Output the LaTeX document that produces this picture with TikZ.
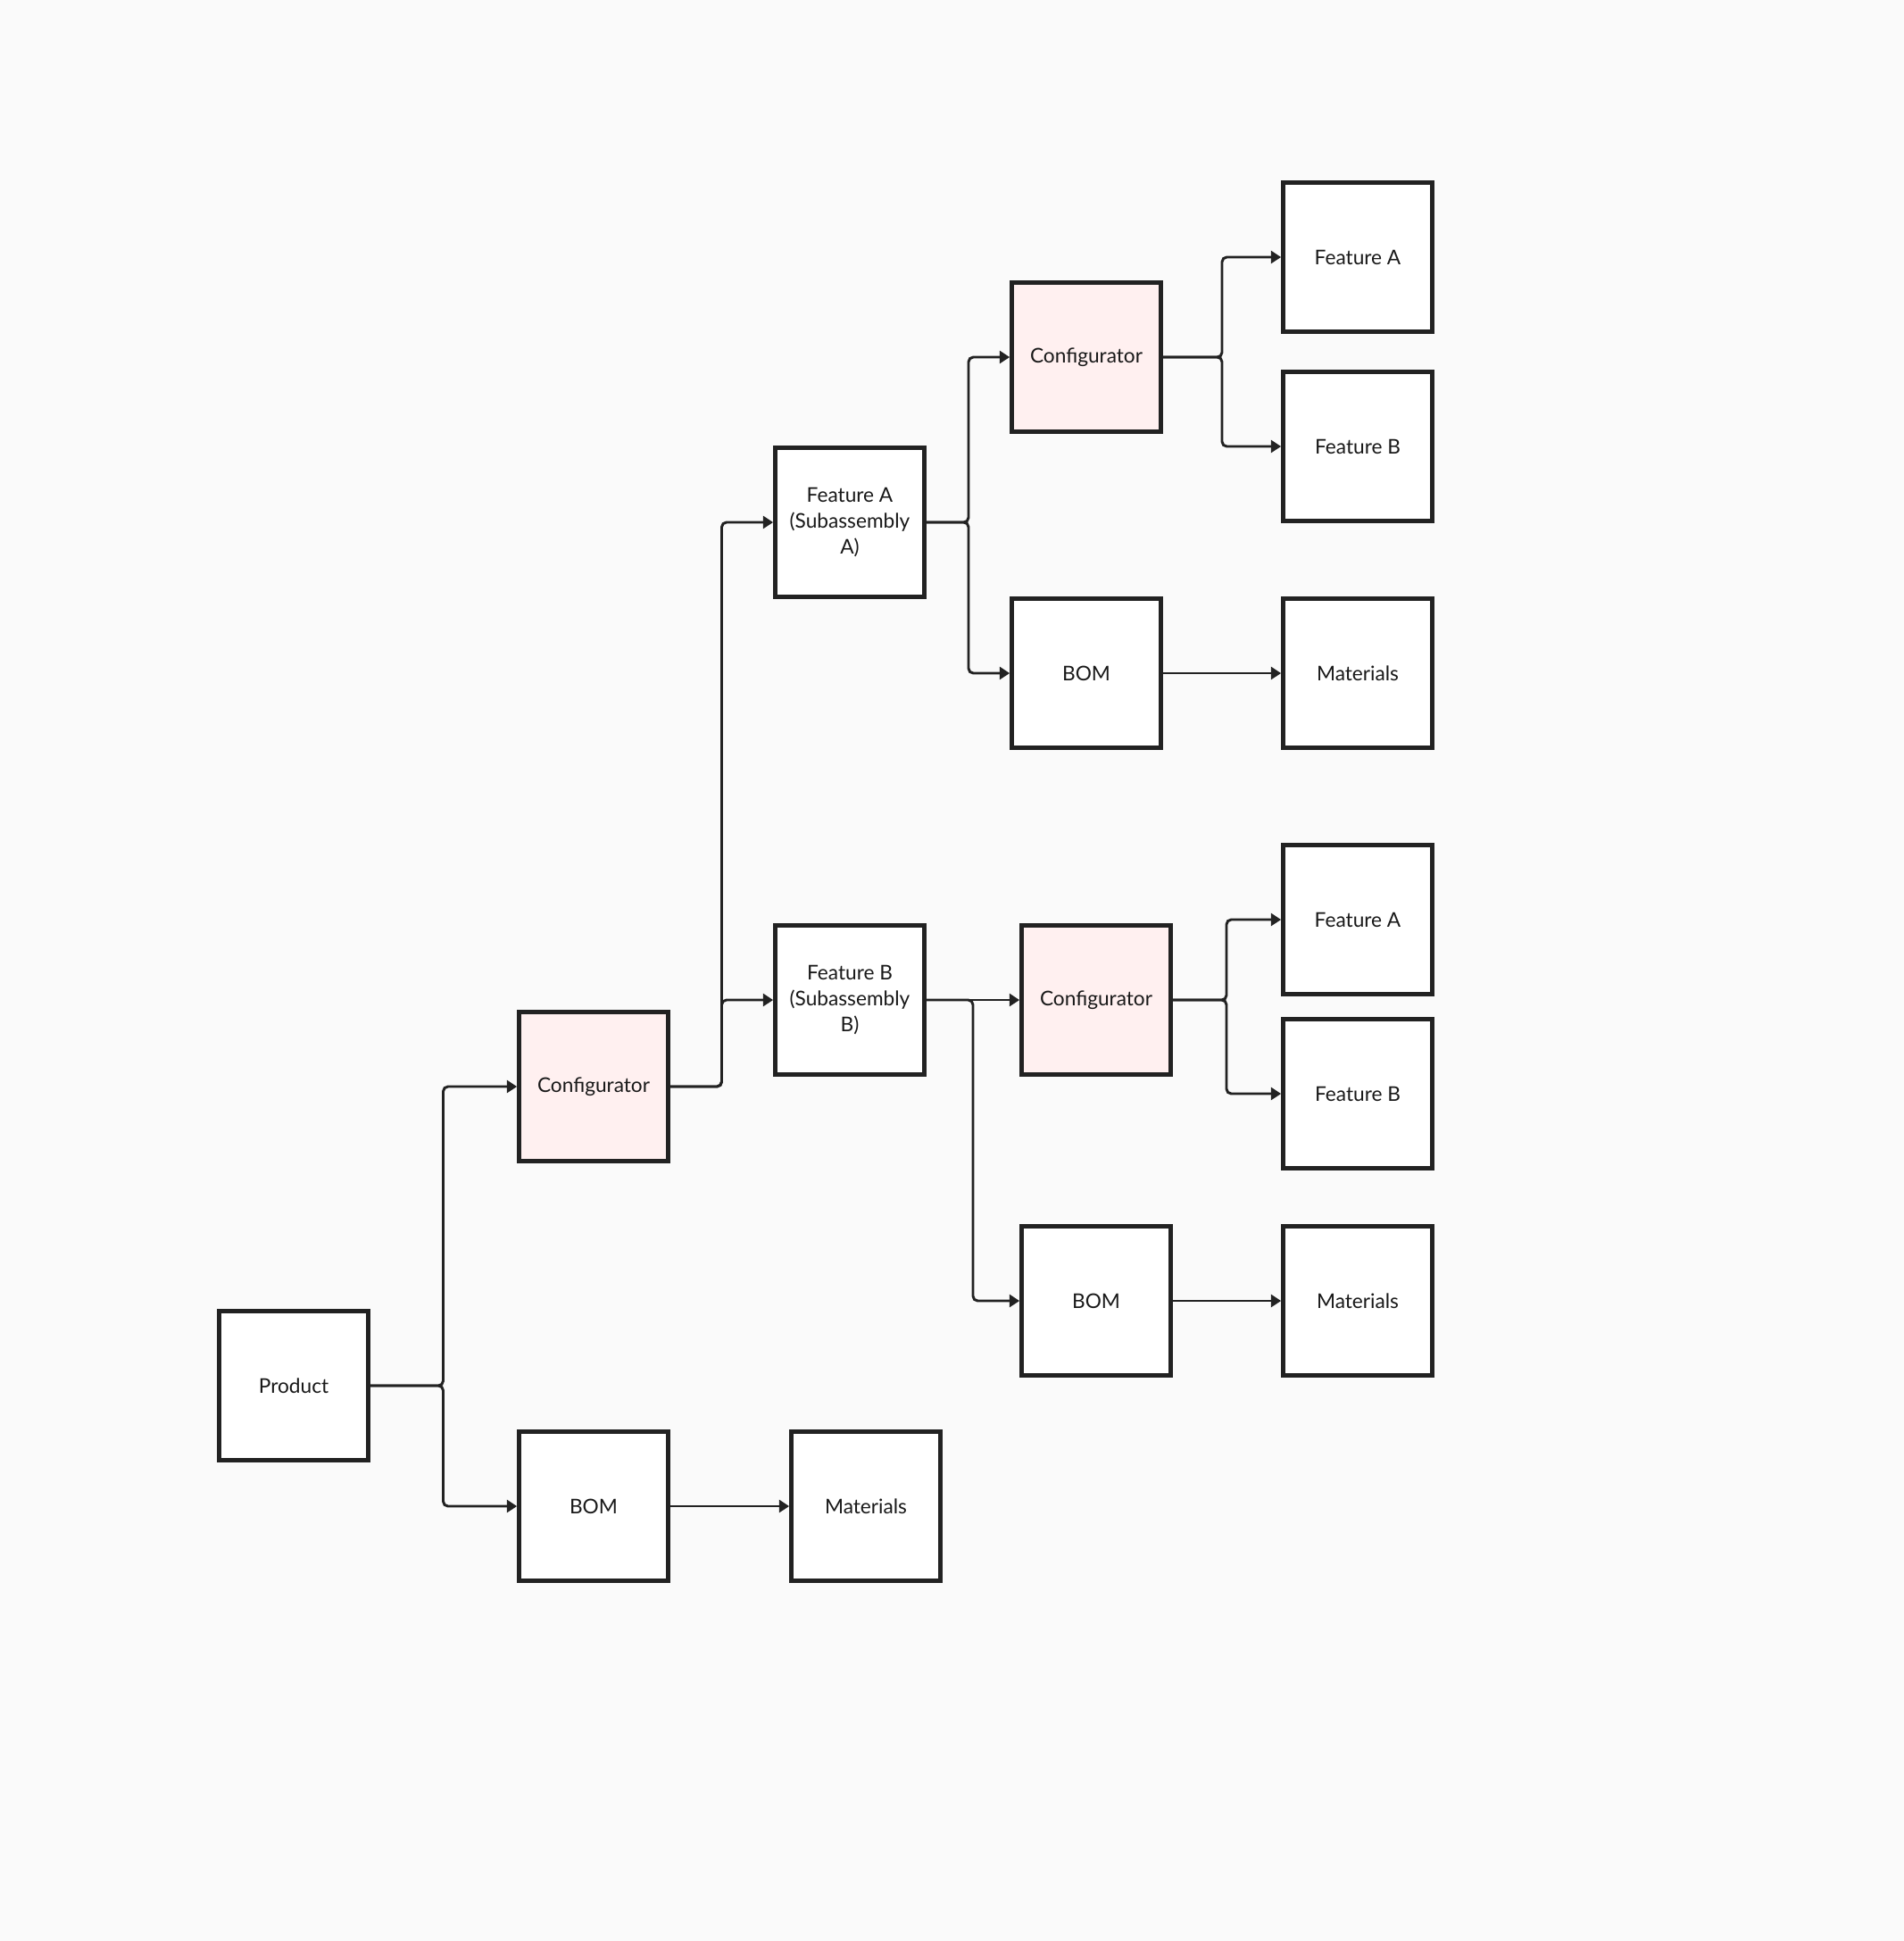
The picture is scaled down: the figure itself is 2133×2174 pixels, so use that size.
\documentclass[tikz,border=0pt]{standalone}
\usepackage{fontspec}
\setmainfont{Lato}
\usetikzlibrary{arrows.meta}
\definecolor{bg}{HTML}{FAFAFA}
\definecolor{edge}{HTML}{222222}
\definecolor{cfg}{HTML}{FFF0F0}
\begin{document}
\begin{tikzpicture}[x=0.75pt,y=-0.75pt,
  box/.style={draw=edge, line width=3.3pt, fill=white, minimum width=125.5pt,
    minimum height=125.5pt, inner sep=0pt, align=center,
    font=\fontsize{17}{21.6}\selectfont, text=black!90},
  cfgbox/.style={box, fill=cfg},
  conn/.style={draw=edge, line width=2.2pt, rounded corners=4pt,
    -{Triangle[length=8.5pt,width=10.5pt]}}]
\fill[bg] (0,0) rectangle (2133,2174);
\useasboundingbox (0,0) rectangle (2133,2174);

\node[box] (prod) at (329,1552) {Product};
\node[cfgbox] (cfg1) at (665,1217) {Configurator};
\node[box] (bom1) at (665,1687) {BOM};
\node[box] (mat1) at (970,1687) {Materials};
\node[box] (fa) at (952,585) {Feature A\\(Subassembly\\A)};
\node[box] (fb) at (952,1120) {Feature B\\(Subassembly\\B)};
\node[cfgbox] (cfg2) at (1217,400) {Configurator};
\node[box] (bom2) at (1217,754) {BOM};
\node[box] (fa2) at (1521,288) {Feature A};
\node[box] (fb2) at (1521,500) {Feature B};
\node[box] (mat2) at (1521,754) {Materials};
\node[cfgbox] (cfg3) at (1228,1120) {Configurator};
\node[box] (fa3) at (1521,1030) {Feature A};
\node[box] (fb3) at (1521,1225) {Feature B};
\node[box] (bom3) at (1228,1457) {BOM};
\node[box] (mat3) at (1521,1457) {Materials};

\coordinate (t1) at (496.5,0);
\coordinate (t2) at (808.5,0);
\coordinate (t3) at (1085,0);
\coordinate (t4) at (1369,0);
\coordinate (t5) at (1090,0);
\coordinate (t6) at (1374,0);

\draw[conn] (prod.east) -- (prod.east -| t1) |- (cfg1.west);
\draw[conn] (prod.east) -- (prod.east -| t1) |- (bom1.west);
\draw[conn] (bom1) -- (mat1);
\draw[conn] (cfg1.east) -- (cfg1.east -| t2) |- (fa.west);
\draw[conn] (cfg1.east) -- (cfg1.east -| t2) |- (fb.west);
\draw[conn] (fa.east) -- (fa.east -| t3) |- (cfg2.west);
\draw[conn] (fa.east) -- (fa.east -| t3) |- (bom2.west);
\draw[conn] (cfg2.east) -- (cfg2.east -| t4) |- (fa2.west);
\draw[conn] (cfg2.east) -- (cfg2.east -| t4) |- (fb2.west);
\draw[conn] (bom2) -- (mat2);
\draw[conn] (fb) -- (cfg3);
\draw[conn] (fb.east) -- (fb.east -| t5) |- (bom3.west);
\draw[conn] (cfg3.east) -- (cfg3.east -| t6) |- (fa3.west);
\draw[conn] (cfg3.east) -- (cfg3.east -| t6) |- (fb3.west);
\draw[conn] (bom3) -- (mat3);
\end{tikzpicture}
\end{document}
